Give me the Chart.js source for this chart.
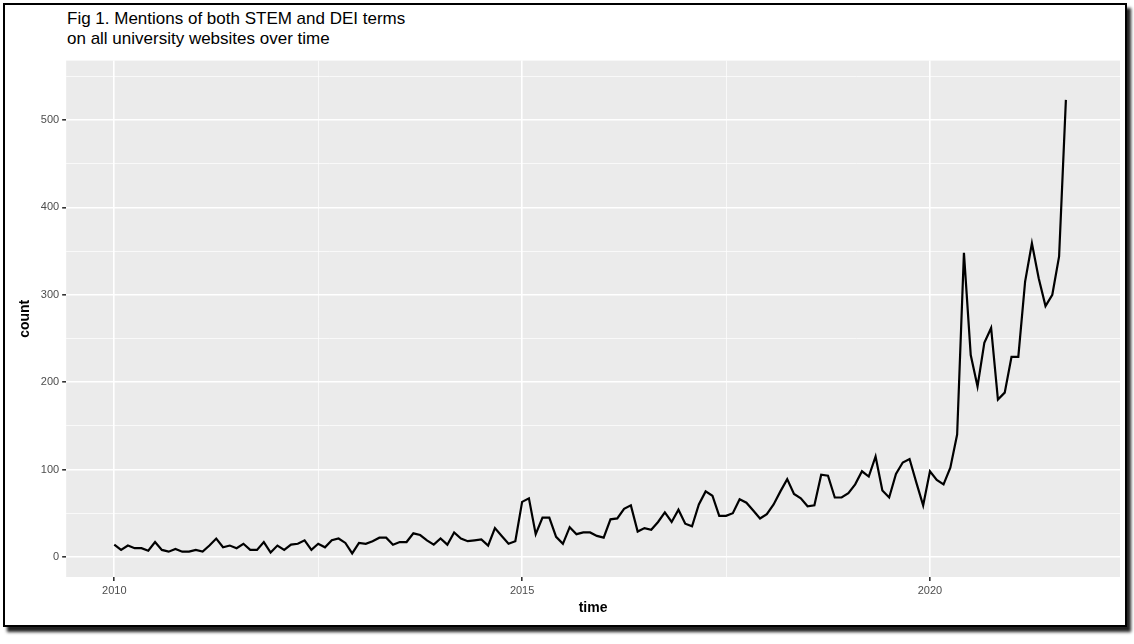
<!DOCTYPE html>
<html>
<head>
<meta charset="utf-8">
<script src="https://cdn.jsdelivr.net/npm/chart.js@4"></script>
<style>
  body { margin: 0; background: #fff; }
  #frame { position: absolute; left: 3px; top: 3px; width: 1120px; height: 620px;
           border: 2px solid #000; box-shadow: 4px 5px 3px #222; background: #fff; }
  #title { position: absolute; left: 62px; top: 4px; font: 17px "Liberation Sans", Arial, sans-serif; line-height: 20px; color: #000; }
  #wrap { position: absolute; left: 0; top: 46px; width: 1122px; height: 574px; }
</style>
</head>
<body>
<div id="frame">
  <div id="title">Fig 1. Mentions of both STEM and DEI terms<br>on all university websites over time</div>
  <div id="wrap"><canvas id="myChart"></canvas></div>
</div>
<script>
// monthly counts, Jan 2010 onward
var counts = [
  14, 8, 13, 10, 10, 7, 17, 8, 6, 9,
  6, 6, 8, 6, 13, 21, 11, 13, 10, 15,
  8, 8, 17, 5, 13, 8, 14, 15, 19, 8,
  15, 11, 19, 21, 16, 4, 16, 15, 18, 22,
  22, 14, 17, 17, 27, 25, 19, 14, 21, 14,
  28, 21, 18, 19, 20, 13, 33, 24, 15, 18,
  63, 67, 26, 45, 45, 23, 15, 34, 26, 28,
  28, 24, 22, 43, 44, 55, 59, 29, 33, 31,
  40, 51, 40, 54, 38, 35, 60, 75, 70, 47,
  47, 50, 66, 62, 53, 44, 49, 60, 75, 89,
  72, 67, 58, 59, 94, 93, 68, 68, 73, 83,
  98, 92, 115, 76, 68, 95, 108, 112, 85, 59,
  98, 88, 83, 102, 140, 348, 231, 195, 245, 262,
  180, 188, 229, 229, 315, 359, 319, 287, 300, 344,
  523
];
var startYear = 2010;
var xTickLabels = [2010, 2015, 2020];
var yTickLabels = [0, 100, 200, 300, 400, 500];

var points = counts.map(function(c, i) { return { x: startYear + i / 12, y: c }; });

var panelBg = {
  id: 'panelBg',
  beforeDraw: function(chart) {
    var a = chart.chartArea, ctx = chart.ctx;
    ctx.save();
    ctx.fillStyle = '#ebebeb';
    ctx.fillRect(a.left, a.top, a.right - a.left, a.bottom - a.top);
    ctx.restore();
  }
};

var tickFont = { family: '"Liberation Sans", Arial, sans-serif', size: 11 };
var titleFont = { family: '"Liberation Sans", Arial, sans-serif', size: 14, weight: 'bold' };

new Chart(document.getElementById('myChart'), {
  type: 'line',
  data: { datasets: [{ data: points, borderColor: '#000', borderWidth: 2.2, pointRadius: 0, tension: 0 }] },
  options: {
    responsive: true, maintainAspectRatio: false, animation: false,
    layout: { padding: { top: 0, right: 7, bottom: 4, left: 8 } },
    plugins: { legend: { display: false }, tooltip: { enabled: false } },
    scales: {
      x: {
        type: 'linear', min: 2009.41, max: 2022.33,
        afterBuildTicks: function(ax) {
          var t = [];
          for (var v = 2007.5; v <= 2022.5; v += 2.5) if (v >= ax.min && v <= ax.max) t.push({ value: v });
          ax.ticks = t;
        },
        ticks: {
          color: '#4d4d4d', font: tickFont, autoSkip: false, maxRotation: 0,
          callback: function(v) { return xTickLabels.indexOf(v) >= 0 ? String(v) : ''; }
        },
        grid: {
          color: '#fff',
          lineWidth: function(c) { return xTickLabels.indexOf(c.tick.value) >= 0 ? 1.6 : 0.7; },
          drawTicks: true, tickLength: 4,
          tickColor: function(c) { return xTickLabels.indexOf(c.tick.value) >= 0 ? '#333' : 'rgba(0,0,0,0)'; }
        },
        border: { display: false },
        title: { display: true, text: 'time', color: '#000', font: titleFont, padding: { top: 0 } }
      },
      y: {
        min: -23, max: 568,
        afterBuildTicks: function(ax) {
          var t = [];
          for (var v = 0; v <= 550; v += 50) t.push({ value: v });
          ax.ticks = t;
        },
        ticks: {
          color: '#4d4d4d', font: tickFont, autoSkip: false,
          callback: function(v) { return yTickLabels.indexOf(v) >= 0 ? String(v) : ''; }
        },
        grid: {
          color: '#fff',
          lineWidth: function(c) { return yTickLabels.indexOf(c.tick.value) >= 0 ? 1.6 : 0.7; },
          tickLength: 4,
          tickColor: function(c) { return yTickLabels.indexOf(c.tick.value) >= 0 ? '#333' : 'rgba(0,0,0,0)'; }
        },
        border: { display: false },
        title: { display: true, text: 'count', color: '#000', font: titleFont }
      }
    }
  },
  plugins: [panelBg]
});
</script>
</body>
</html>
